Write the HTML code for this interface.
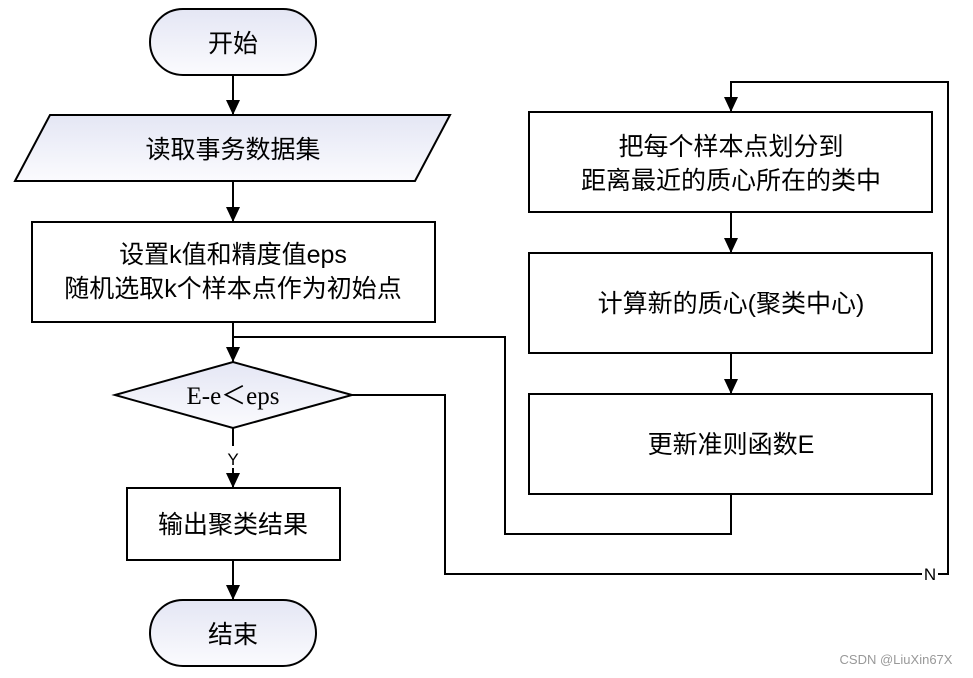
<!DOCTYPE html>
<html><head><meta charset="utf-8"><style>
body{margin:0;background:#fff}
svg text{font-family:"Liberation Sans","Noto Sans CJK SC",sans-serif;font-size:25px;fill:#000}
</style></head><body>
<svg width="973" height="673" viewBox="0 0 973 673" xmlns="http://www.w3.org/2000/svg">
<defs>
<linearGradient id="g" x1="0" y1="0" x2="0" y2="1"><stop offset="0" stop-color="#e4e6f4"/><stop offset="1" stop-color="#fbfbfe"/></linearGradient>
<marker id="a" markerWidth="16" markerHeight="14" refX="15" refY="7" orient="auto" markerUnits="userSpaceOnUse"><path d="M0,0 L15,7 L0,14 Z" fill="#000"/></marker>
</defs>
<g stroke="#000" stroke-width="2" fill="none">
<rect x="150" y="9" width="166" height="66" rx="33" fill="url(#g)"/>
<polygon points="50,115 450,115 415,181 15,181" fill="url(#g)"/>
<rect x="32" y="222" width="403" height="100" fill="#fff"/>
<polygon points="115,395 233,362 352,395 233,428" fill="url(#g)"/>
<rect x="127" y="488" width="213" height="72" fill="#fff"/>
<rect x="150" y="600" width="166" height="66" rx="33" fill="url(#g)"/>
<rect x="529" y="112" width="403" height="100" fill="#fff"/>
<rect x="529" y="253" width="403" height="100" fill="#fff"/>
<rect x="529" y="394" width="403" height="100" fill="#fff"/>
<line x1="233" y1="75" x2="233" y2="115" marker-end="url(#a)"/>
<line x1="233" y1="181" x2="233" y2="222" marker-end="url(#a)"/>
<line x1="233" y1="322" x2="233" y2="362" marker-end="url(#a)"/>
<line x1="233" y1="428" x2="233" y2="446"/>
<line x1="233" y1="468" x2="233" y2="488" marker-end="url(#a)"/>
<line x1="233" y1="560" x2="233" y2="600" marker-end="url(#a)"/>
<line x1="731" y1="212" x2="731" y2="253" marker-end="url(#a)"/>
<line x1="731" y1="353" x2="731" y2="394" marker-end="url(#a)"/>
<polyline points="731,494 731,534 505,534 505,337 233,337"/>
<polyline points="352,395 445,395 445,574 922,574"/>
<polyline points="938,574 948,574 948,82 731,82 731,112" marker-end="url(#a)"/>
</g>
<g text-anchor="middle">
<text x="233" y="52">开始</text>
<text x="233" y="158">读取事务数据集</text>
<text x="233" y="263">设置k值和精度值eps</text>
<text x="233" y="297">随机选取k个样本点作为初始点</text>
<text x="233" y="404" style="font-family:'Liberation Serif',serif;font-size:25px">E-e＜eps</text>
<text x="233" y="465" style="font-size:17px">Y</text>
<text x="233" y="533">输出聚类结果</text>
<text x="233" y="643">结束</text>
<text x="731" y="155">把每个样本点划分到</text>
<text x="731" y="189">距离最近的质心所在的类中</text>
<text x="731" y="312">计算新的质心(聚类中心)</text>
<text x="731" y="453">更新准则函数E</text>
<text x="930" y="580" style="font-size:17px">N</text>
<text x="896" y="664" style="font-size:13px;fill:#999">CSDN @LiuXin67X</text>
</g>
</svg>
</body></html>
